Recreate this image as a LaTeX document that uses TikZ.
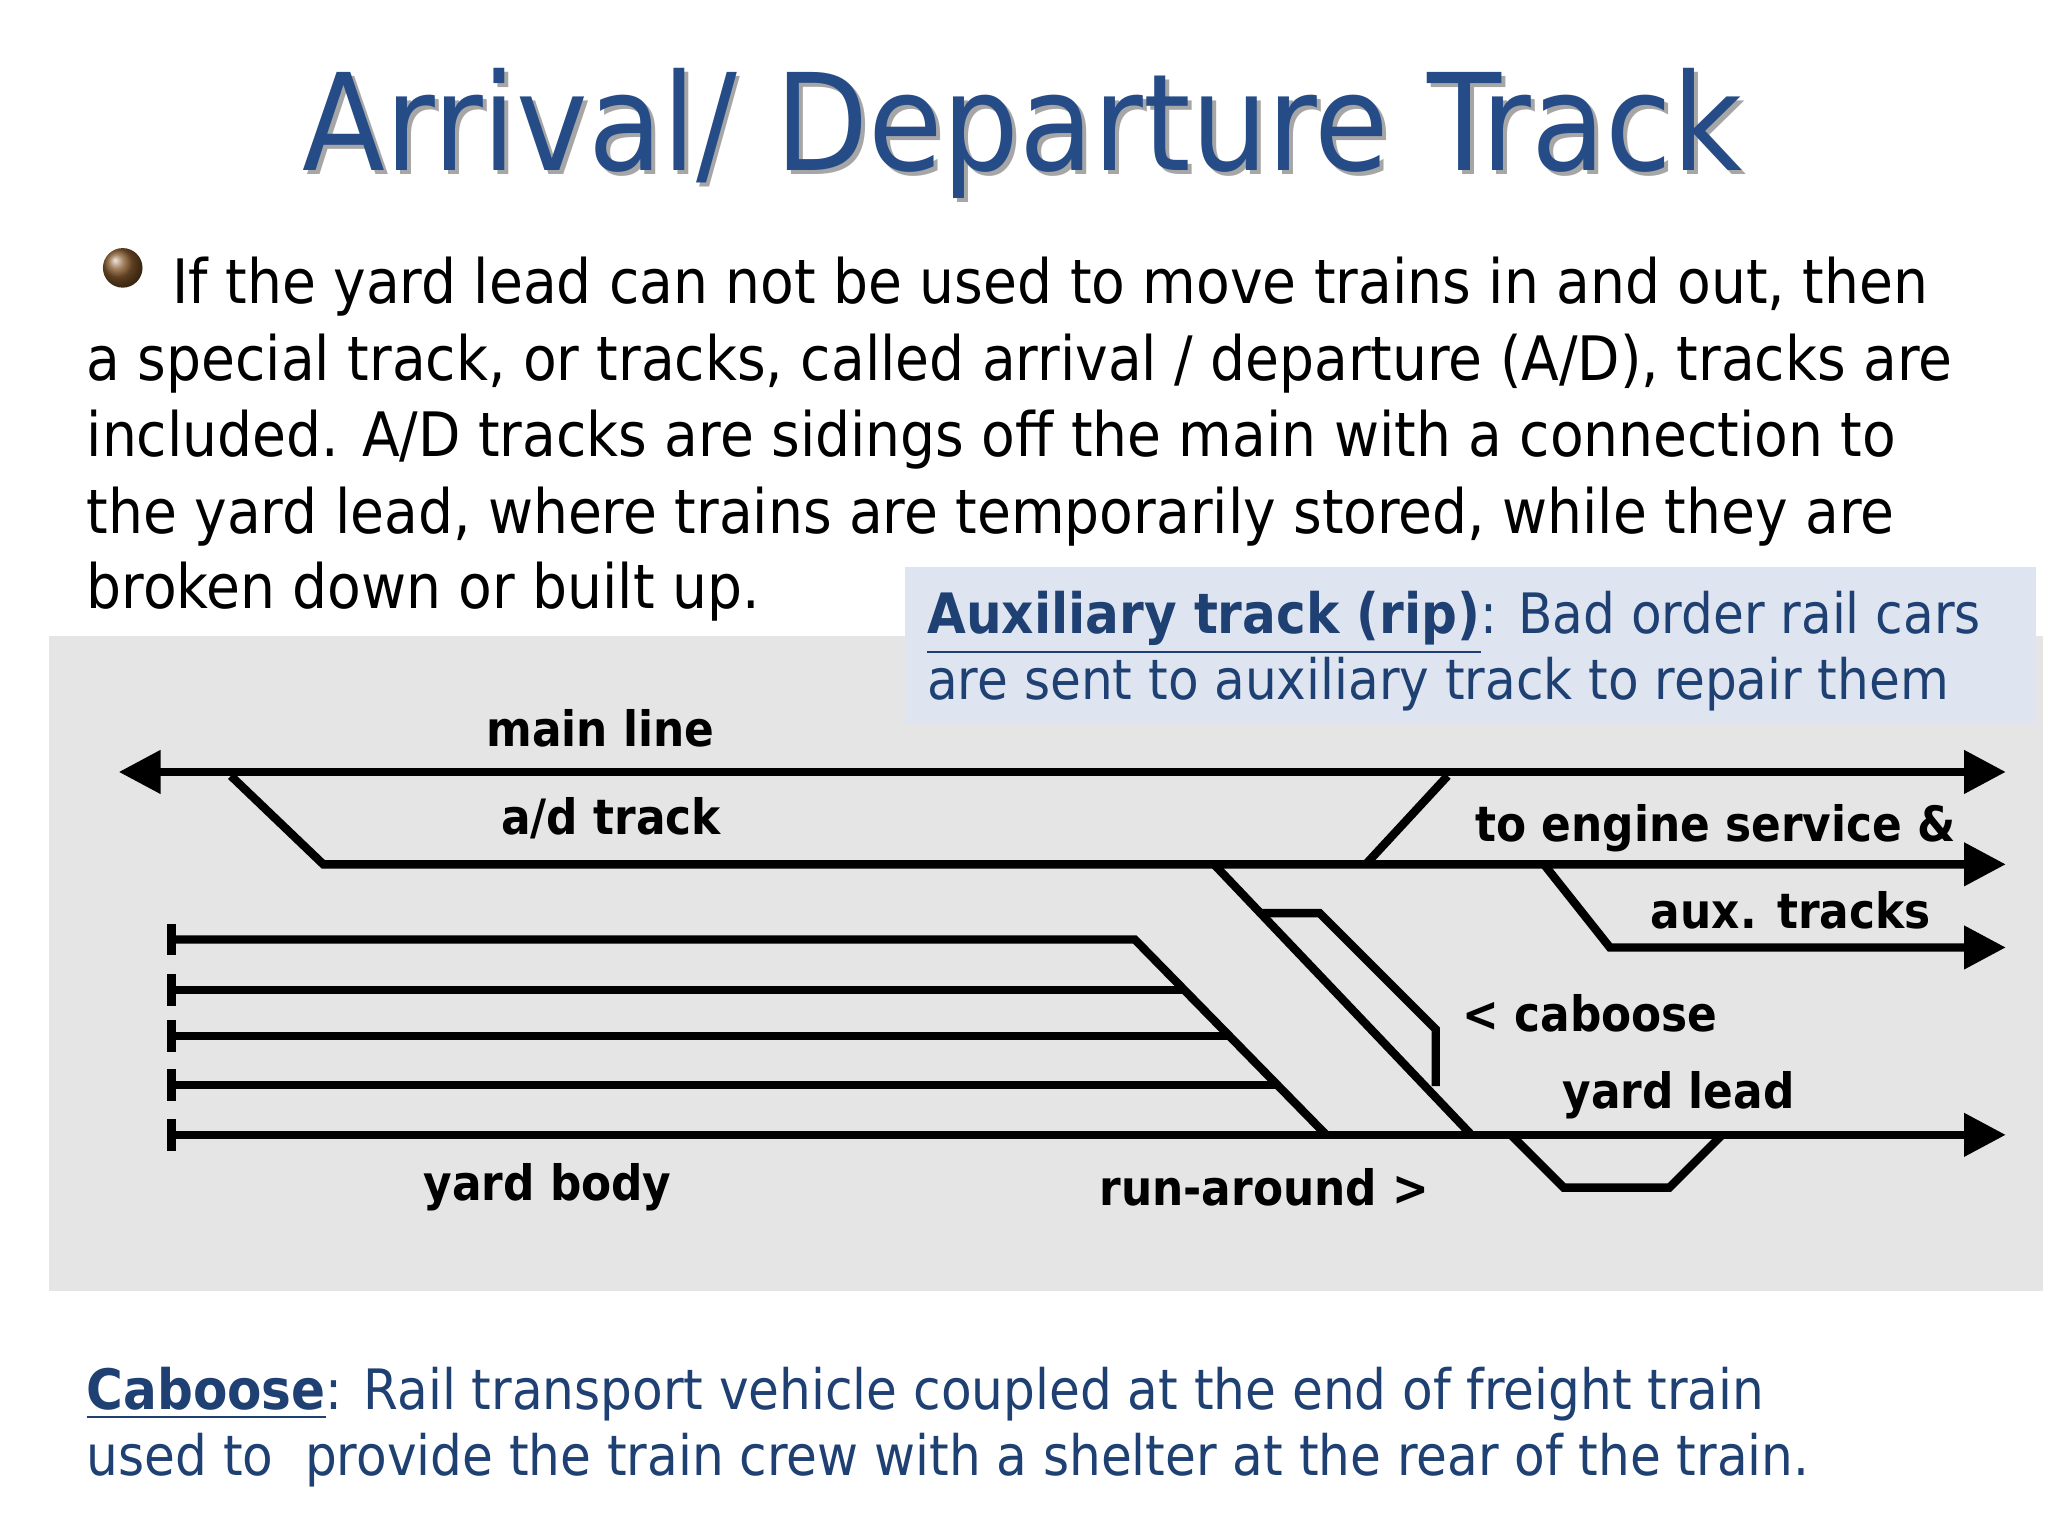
\documentclass[tikz,border=0pt]{standalone}
\usepackage{fontspec}
\setmainfont{DejaVu Sans Condensed}
\usetikzlibrary{arrows.meta}
\definecolor{titleblue}{rgb}{0.15,0.30,0.53}
\definecolor{textblue}{rgb}{0.12,0.25,0.45}
\definecolor{yardgray}{rgb}{0.90,0.90,0.90}
\definecolor{auxblue}{rgb}{0.87,0.90,0.94}
\tikzset{
  rail/.style={line width=1.8pt, line join=miter},
  railarrow/.style={rail, -{Triangle[length=9pt,width=9pt]}},
  tracklabel/.style={font=\fontsize{10.5}{13}\selectfont\bfseries},
  bodyline/.style={anchor=base west, inner sep=0pt, font=\fontsize{13.2}{16}\selectfont},
  noteline/.style={bodyline, text=textblue, font=\fontsize{12}{15}\selectfont},
}
\begin{document}
\begin{tikzpicture}[x=0.01cm,y=-0.01cm]
\useasboundingbox (0,0) rectangle (1552,1164);
\fill[white] (0,0) rectangle (1552,1164);
% title
\node[text=black!35, font=\fontsize{29}{34}\selectfont] (shadow) at (778,104){Arrival/ Departure Track};
\node[text=titleblue, font=\fontsize{29}{34}\selectfont] (title) at (775,101){Arrival/ Departure Track};
% bullet text
\shade[ball color=brown!70!black] (93,203) circle (15);
\node[bodyline] (l1) at (130,230){If the yard lead can not be used to move trains in and out, then};
\node[bodyline] (l2) at (65,288){a special track, or tracks, called arrival / departure (A/D), tracks are};
\node[bodyline] (l3) at (65,346){included. A/D tracks are sidings off the main with a connection to};
\node[bodyline] (l4) at (65,404){the yard lead, where trains are temporarily stored, while they are};
\node[bodyline] (l5) at (65,461){broken down or built up.};
% yard background
\fill[yardgray] (37,482) rectangle (1548,978);
\fill[auxblue] (686,430) rectangle (1543,548);
\node[noteline] (aux1) at (702,480){\textbf{\underline{Auxiliary track (rip)}}: Bad order rail cars};
\node[noteline] (aux2) at (702,530){are sent to auxiliary track to repair them};
% tracks
\draw[rail, {Triangle[length=9pt,width=9pt]}-{Triangle[length=9pt,width=9pt]}] (90,585) -- (1520,585);
\draw[railarrow] (175,588) -- (245,655) -- (1520,655);
\draw[rail] (1035,655) -- (1097,588);
\draw[railarrow] (1170,655) -- (1220,718) -- (1520,718);
\draw[rail] (920,655) -- (1115,860);
\draw[rail] (955,692) -- (1000,692) -- (1088,780) -- (1088,823);
\draw[rail] (130,712) -- (860,712) -- (1005,860);
\foreach \y/\e in {750/897, 785/931, 822/968}
  \draw[rail] (130,\y) -- (\e,\y);
\draw[railarrow] (130,860) -- (1520,860);
\foreach \y in {712,750,785,822,860}
  \draw[rail] (130,\y-12) -- (130,\y+12);
\draw[rail] (1145,860) -- (1185,900) -- (1265,900) -- (1305,860);
% labels
\node[tracklabel] (mainline) at (455,552){main line};
\node[tracklabel] (adtrack) at (463,620){a/d track};
\node[tracklabel] (engine) at (1300,628){to engine service \&};
\node[tracklabel] (auxtr) at (1357,690){aux. tracks};
\node[tracklabel] (caboose) at (1205,768){< caboose};
\node[tracklabel] (yardlead) at (1272,830){yard lead};
\node[tracklabel] (yardbody) at (415,900){yard body};
\node[tracklabel] (runaround) at (958,900){run-around >};
% caboose note
\node[noteline] (cab1) at (65,1068){\textbf{\underline{Caboose}}: Rail transport vehicle coupled at the end of freight train};
\node[noteline] (cab2) at (65,1118){used to\ \ provide the train crew with a shelter at the rear of the train.};
\end{tikzpicture}
\end{document}
